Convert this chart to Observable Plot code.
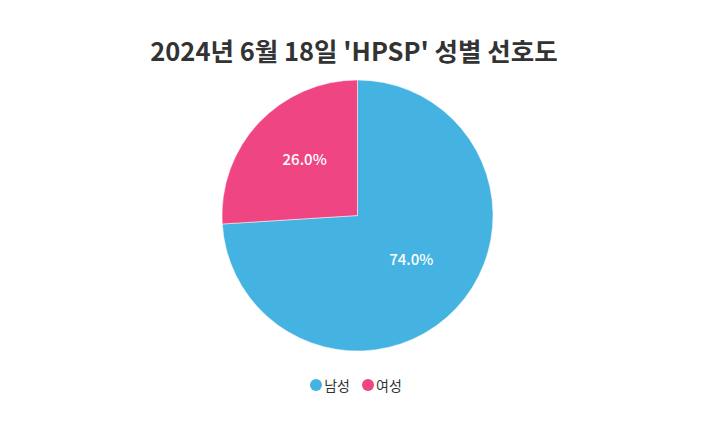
<!DOCTYPE html>
<html><head><meta charset="utf-8">
<script src="https://cdn.jsdelivr.net/npm/d3@7"></script>
<script src="https://cdn.jsdelivr.net/npm/@observablehq/plot@0.6"></script>
<style>
body{margin:0;background:#fff;font-family:"Noto Sans CJK KR","Noto Sans",sans-serif;}
#wrap{width:708px;}
#title{height:65px;box-sizing:border-box;padding-top:34px;line-height:32px;text-align:center;font-size:25.5px;font-weight:700;color:#333;}
#legend{display:flex;justify-content:center;align-items:center;height:40px;font-size:14px;color:#333;gap:12px;padding-left:4px;}
.item{display:flex;align-items:center;gap:2px;}
.dot{width:12px;height:12px;border-radius:50%;display:inline-block;}
</style></head><body>
<div id="wrap">
<div id="title">2024년 6월 18일 'HPSP' 성별 선호도</div>
<div id="chart"></div>
<div id="legend"></div>
</div>
<script>
const titleText = "2024년 6월 18일 'HPSP' 성별 선호도";
const categories = ["남성", "여성"];
const values = [74.0, 26.0];
const colors = ["#45b3e1", "#ef4582"];

const pie = d3.pie().sort(null).value(d => d.value);
const slices = pie(categories.map((c, i) => ({category: c, value: values[i]})));
const labelArc = d3.arc().innerRadius(0).outerRadius(1.08);
const labels = slices.map(s => {
  const [cx, cy] = labelArc.centroid(s);
  return {x: cx, y: -cy, text: s.data.value.toFixed(1) + "%"};
});

function pieMark(index, scales) {
  const cx = scales.x(0), cy = scales.y(0);
  const r = scales.x(1) - cx;
  const arc = d3.arc().innerRadius(0).outerRadius(r);
  const g = d3.create("svg:g").attr("transform", `translate(${cx},${cy})`);
  g.selectAll("path").data(slices).join("path")
    .attr("d", arc)
    .attr("fill", d => scales.color(d.data.category))
    .attr("stroke", "#fff")
    .attr("stroke-width", 0.5);
  return g.node();
}

const chart = Plot.plot({
  width: 708,
  height: 300,
  marginLeft: 222,
  marginRight: 215,
  marginTop: 15,
  marginBottom: 14,
  x: {domain: [-1, 1], axis: null},
  y: {domain: [-1, 1], axis: null},
  color: {domain: categories, range: colors},
  style: {fontFamily: "'Noto Sans CJK KR','Noto Sans',sans-serif"},
  marks: [
    pieMark,
    Plot.text(labels, {x: "x", y: "y", text: "text", fill: "white", fontSize: 15, fontWeight: 500, dy: -6})
  ]
});
document.getElementById("chart").appendChild(chart);

const color = chart.scale("color");
const leg = document.getElementById("legend");
color.domain.forEach((c, i) => {
  const item = document.createElement("span");
  item.className = "item";
  item.innerHTML = `<span class="dot" style="background:${color.range[i]}"></span><span>${c}</span>`;
  leg.appendChild(item);
});
</script>
</body></html>
